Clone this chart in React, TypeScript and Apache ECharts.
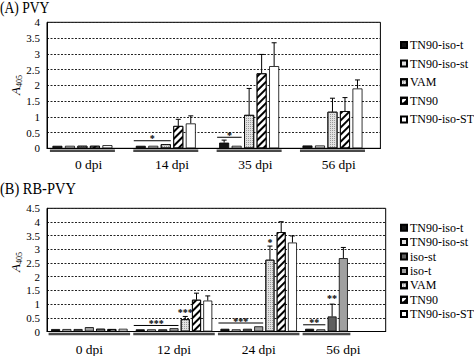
import React, { useEffect, useRef } from 'react';
import * as echarts from 'echarts';

// ---------- data ----------
const categoriesA = ['0 dpi', '14 dpi', '35 dpi', '56 dpi'];
const categoriesB = ['0 dpi', '12 dpi', '24 dpi', '56 dpi'];
const yMaxA = 4;
const yMaxB = 4.5;
const yStep = 0.5;

const namesA = ['TN90-iso-t', 'TN90-iso-st', 'VAM', 'TN90', 'TN90-iso-ST'];
const namesB = ['TN90-iso-t', 'TN90-iso-st', 'iso-st', 'iso-t', 'VAM', 'TN90', 'TN90-iso-ST'];

// (A) PVY – mean A405
const a_TN90_iso_t = [0.08, 0.08, 0.18, 0.09];
const a_TN90_iso_st = [0.08, 0.08, 0.08, 0.09];
const a_VAM = [0.08, 0.13, 1.06, 1.16];
const a_TN90 = [0.08, 0.71, 2.38, 1.18];
const a_TN90_iso_ST = [0.1, 0.79, 2.61, 1.9];
// (A) error bars
const aErr_TN90_iso_t = [0, 0, 0.08, 0];
const aErr_TN90_iso_st = [0, 0, 0, 0];
const aErr_VAM = [0, 0, 0.84, 0.43];
const aErr_TN90 = [0, 0.21, 0.6, 0.43];
const aErr_TN90_iso_ST = [0, 0.24, 0.74, 0.27];

// (B) RB-PVY – mean A405
const b_TN90_iso_t = [0.09, 0.08, 0.1, 0.1];
const b_TN90_iso_st = [0.09, 0.08, 0.08, 0.08];
const b_iso_st = [0.09, 0.08, 0.1, 0.55];
const b_iso_t = [0.16, 0.12, 0.19, 2.68];
const b_VAM = [0.1, 0.45, 2.62, null];
const b_TN90 = [0.09, 1.16, 3.63, null];
const b_TN90_iso_ST = [0.1, 1.13, 3.25, null];
// (B) error bars
const bErr_TN90_iso_t = [0, 0, 0, 0];
const bErr_TN90_iso_st = [0, 0, 0, 0];
const bErr_iso_st = [0, 0, 0, 0.45];
const bErr_iso_t = [0, 0, 0, 0.39];
const bErr_VAM = [0, 0.1, 0.5, 0];
const bErr_TN90 = [0, 0.24, 0.38, 0];
const bErr_TN90_iso_ST = [0, 0.17, 0.24, 0];

// significance marks: category, first/last bar slot, y value, text, with bracket line?
const sigA = [
  { cat: 1, from: 0, to: 2, y: 0.24, text: '*', line: true },
  { cat: 2, from: 0, to: 1, y: 0.35, text: '*', line: true },
];
const sigB = [
  { cat: 1, from: 0, to: 3, y: 0.22, text: '***', line: true },
  { cat: 1, from: 4, to: 4, y: 0.755, text: '***', line: false },
  { cat: 2, from: 0, to: 3, y: 0.31, text: '***', line: true },
  { cat: 2, from: 4, to: 4, y: 3.31, text: '*', line: false },
  { cat: 3, from: 0, to: 1, y: 0.245, text: '**', line: true },
  { cat: 3, from: 2, to: 2, y: 1.28, text: '**', line: false },
];

const valsA = [a_TN90_iso_t, a_TN90_iso_st, a_VAM, a_TN90, a_TN90_iso_ST];
const errsA = [aErr_TN90_iso_t, aErr_TN90_iso_st, aErr_VAM, aErr_TN90, aErr_TN90_iso_ST];
const valsB = [b_TN90_iso_t, b_TN90_iso_st, b_iso_st, b_iso_t, b_VAM, b_TN90, b_TN90_iso_ST];
const errsB = [bErr_TN90_iso_t, bErr_TN90_iso_st, bErr_iso_st, bErr_iso_t, bErr_VAM, bErr_TN90, bErr_TN90_iso_ST];

// ---------- styles ----------
const FONT = 'Liberation Serif';

function barStyle(name: string): any {
  const base: any = { borderColor: '#000', borderWidth: 0.8 };
  switch (name) {
    case 'TN90-iso-t':
      return { ...base, color: '#141414' };
    case 'TN90-iso-st':
      return { ...base, color: '#e0e0e0' };
    case 'iso-st':
      return { ...base, color: '#5f5f5f' };
    case 'iso-t':
      return { ...base, color: '#a0a0a0' };
    case 'VAM':
      return {
        ...base,
        color: '#e2e2e2',
        decal: { symbol: 'rect', symbolSize: 1, dashArrayX: [1, 1], dashArrayY: [1, 1], color: '#999999' },
      };
    case 'TN90':
      return {
        ...base,
        color: '#ffffff',
        decal: {
          symbol: 'rect',
          symbolSize: 1,
          dashArrayX: [1, 0],
          dashArrayY: [1.5, 2.5],
          rotation: -Math.PI / 4,
          color: '#000',
        },
      };
    default:
      return { ...base, color: '#ffffff' };
  }
}

type Layout = { slots: number; barW: number; gap: number };
const layoutA: Layout = { slots: 6, barW: 10, gap: 2.5 };
const layoutB: Layout = { slots: 7, barW: 9, gap: 2.25 };

function barSeries(idx: number, names: string[], vals: (number | null)[][], lay: Layout, pad: boolean) {
  const out: any[] = names.map((n, s) => ({
    type: 'bar',
    name: n,
    xAxisIndex: idx,
    yAxisIndex: idx,
    data: vals[s].map((v) => (v == null ? '-' : v)),
    barWidth: lay.barW,
    barGap: (lay.gap / lay.barW) * 100 + '%',
    itemStyle: barStyle(n),
    silent: true,
  }));
  if (pad) {
    out.push({
      type: 'bar',
      name: '_pad' + idx,
      xAxisIndex: idx,
      yAxisIndex: idx,
      data: vals[0].map(() => '-'),
      barWidth: lay.barW,
      barGap: (lay.gap / lay.barW) * 100 + '%',
      silent: true,
    });
  }
  return out;
}

function errorSeries(idx: number, vals: (number | null)[][], errs: number[][], lay: Layout) {
  const pitch = lay.barW + lay.gap;
  const data: number[][] = [];
  vals.forEach((arr, s) =>
    arr.forEach((v, c) => {
      const e = errs[s][c];
      if (v != null && e > 0) data.push([c, v, e, s]);
    })
  );
  return {
    type: 'custom',
    xAxisIndex: idx,
    yAxisIndex: idx,
    data,
    z: 5,
    silent: true,
    clip: false,
    encode: { x: 0, y: 1 },
    renderItem: (params: any, api: any) => {
      const c = api.value(0);
      const v = api.value(1);
      const e = api.value(2);
      const s = api.value(3);
      const base = api.coord([c, v]);
      const top = api.coord([c, v + e]);
      const x = base[0] + (s - (lay.slots - 1) / 2) * pitch;
      const st = { stroke: '#000', lineWidth: 1 };
      return {
        type: 'group',
        children: [
          { type: 'line', shape: { x1: x, y1: base[1], x2: x, y2: top[1] }, style: st },
          { type: 'line', shape: { x1: x - 2.5, y1: top[1], x2: x + 2.5, y2: top[1] }, style: st },
        ],
      };
    },
  };
}

function underlineSeries(idx: number, vals: (number | null)[][], lay: Layout) {
  const pitch = lay.barW + lay.gap;
  const groupW = lay.slots * pitch - lay.gap;
  const data = vals[0].map((_, c) => [c, 0, vals.filter((arr) => arr[c] != null).length]);
  return {
    type: 'custom',
    xAxisIndex: idx,
    yAxisIndex: idx,
    data,
    z: 4,
    silent: true,
    clip: false,
    encode: { x: 0, y: 1 },
    renderItem: (params: any, api: any) => {
      const p = api.coord([api.value(0), 0]);
      const n = api.value(2);
      const left = p[0] - groupW / 2;
      return {
        type: 'line',
        shape: { x1: left - 2.5, y1: p[1] + 2.4, x2: left + n * pitch - lay.gap + 2.5, y2: p[1] + 2.4 },
        style: { stroke: '#4a4a4a', lineWidth: 2.5 },
      };
    },
  };
}

function sigSeries(idx: number, sig: any[], lay: Layout) {
  const pitch = lay.barW + lay.gap;
  const groupW = lay.slots * pitch - lay.gap;
  return {
    type: 'custom',
    xAxisIndex: idx,
    yAxisIndex: idx,
    data: sig.map((a) => [a.cat, a.y]),
    z: 6,
    silent: true,
    clip: false,
    encode: { x: 0, y: 1 },
    renderItem: (params: any, api: any) => {
      const a = sig[params.dataIndex];
      const p = api.coord([a.cat, a.y]);
      const left = p[0] - groupW / 2;
      const x1 = left + a.from * pitch - (a.line ? 2 : 0);
      const x2 = left + a.to * pitch + lay.barW;
      const cx = (x1 + x2) / 2;
      const children: any[] = [];
      if (a.line) {
        children.push({
          type: 'line',
          shape: { x1, y1: p[1], x2, y2: p[1] },
          style: { stroke: '#000', lineWidth: 1 },
        });
      }
      children.push({
        type: 'text',
        x: cx,
        y: a.line ? p[1] - 2 : p[1] + 2,
        style: {
          text: a.text,
          fill: '#000',
          fontFamily: FONT,
          fontSize: 10,
          fontWeight: 'bold',
          align: 'center',
          verticalAlign: 'middle',
        },
      });
      return { type: 'group', children };
    },
  };
}

function xAxisCfg(idx: number, cats: string[], margin: number) {
  return {
    gridIndex: idx,
    type: 'category',
    data: cats,
    axisTick: { show: false },
    axisLine: { show: true, lineStyle: { color: '#000', width: 1 } },
    axisLabel: { fontFamily: FONT, fontSize: 13.5, color: '#000', margin },
    splitLine: { show: false },
  };
}

function yAxisCfg(idx: number, max: number) {
  return {
    gridIndex: idx,
    type: 'value',
    min: 0,
    max,
    interval: yStep,
    axisLine: { show: true, lineStyle: { color: '#000', width: 1 } },
    axisTick: { show: false },
    axisLabel: { fontFamily: FONT, fontSize: 11, color: '#000', margin: 7 },
    splitLine: { show: true, lineStyle: { type: [2, 1.5], color: '#222', width: 1 } },
  };
}

function legendCfg(names: string[], top: number, gap: number) {
  return {
    data: names,
    orient: 'vertical',
    left: 400,
    top,
    padding: 0,
    itemWidth: 6,
    itemHeight: 6,
    itemGap: gap,
    icon: 'rect',
    selectedMode: false,
    textStyle: { fontFamily: FONT, fontSize: 12, color: '#000', lineHeight: 12, padding: [0, 0, 0, -2] },
  };
}

function yName(y: number) {
  return {
    type: 'text',
    x: 15,
    y,
    rotation: Math.PI / 2,
    style: {
      text: '{a|A}{b|405}',
      align: 'center',
      verticalAlign: 'middle',
      rich: {
        a: { fontFamily: FONT, fontSize: 13, fontStyle: 'italic', lineHeight: 13, verticalAlign: 'top', fill: '#000' },
        b: { fontFamily: FONT, fontSize: 8, lineHeight: 8, verticalAlign: 'top', padding: [7, 0, 0, 0], fill: '#000' },
      },
    },
  };
}

export default function App() {
  const ref = useRef<HTMLDivElement>(null);
  useEffect(() => {
    if (!ref.current) return;
    const chart = echarts.init(ref.current, undefined, { renderer: 'svg' });
    const option: any = {
      animation: false,
      backgroundColor: '#fff',
      grid: [
        { left: 47, top: 22.3, width: 333.4, height: 126, show: true, borderColor: '#000', borderWidth: 1, backgroundColor: 'transparent' },
        { left: 47, top: 208.3, width: 338.7, height: 123.4, show: true, borderColor: '#000', borderWidth: 1, backgroundColor: 'transparent' },
      ],
      xAxis: [xAxisCfg(0, categoriesA, 9.3), xAxisCfg(1, categoriesB, 10.5)],
      yAxis: [yAxisCfg(0, yMaxA), yAxisCfg(1, yMaxB)],
      legend: [legendCfg(namesA, 39, 6.6), legendCfg(namesB, 221.7, 2.4)],
      graphic: [
        {
          type: 'text',
          x: 0,
          y: 7.5,
          scaleX: 0.85,
          style: { text: '(A) PVY', fontFamily: FONT, fontSize: 16, fill: '#000', verticalAlign: 'middle' },
        },
        {
          type: 'text',
          x: 0,
          y: 188.5,
          scaleX: 0.85,
          style: { text: '(B) RB-PVY', fontFamily: FONT, fontSize: 17, fill: '#000', verticalAlign: 'middle' },
        },
        yName(85),
        yName(262),
      ],
      series: [
        ...barSeries(0, namesA, valsA, layoutA, true),
        ...barSeries(1, namesB, valsB, layoutB, false),
        errorSeries(0, valsA, errsA, layoutA),
        errorSeries(1, valsB, errsB, layoutB),
        underlineSeries(0, valsA, layoutA),
        underlineSeries(1, valsB, layoutB),
        sigSeries(0, sigA, layoutA),
        sigSeries(1, sigB, layoutB),
      ],
    };
    chart.setOption(option);
    return () => chart.dispose();
  }, []);
  return (
    <div
      ref={ref}
      style={{ position: 'absolute', left: 0, top: 0, width: 474, height: 356, background: '#fff' }}
    />
  );
}
